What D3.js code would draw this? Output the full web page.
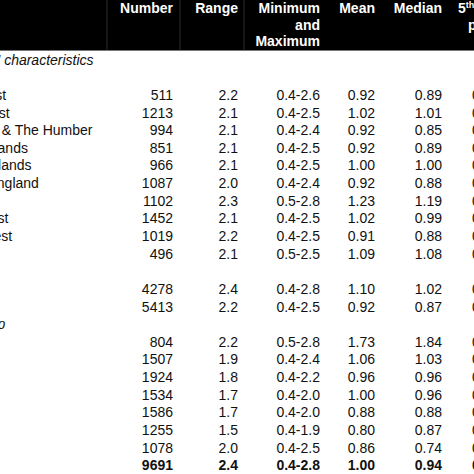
<!DOCTYPE html>
<html>
<head>
<meta charset="utf-8">
<script src="https://cdn.jsdelivr.net/npm/d3@7"></script>
<style>
  body { margin: 0; background: #fff; }
  svg { display: block; font-family: "Liberation Sans", Arial, sans-serif; }
</style>
</head>
<body>
<div id="svg-container"></div>
<script>
// table rows (null = blank / section row)
const labels = ["Practices' characteristics", "", "North East", "North West", "Yorkshire & The Humber",
  "East Midlands", "West Midlands", "East of England", "London", "South East", "South West", "Wales", "",
  "Urban", "Rural", "IMD group", "1", "2", "3", "4", "5", "6", "7", "Total"];
const sections = [0, 15];
const numbers = [null, null, 511, 1213, 994, 851, 966, 1087, 1102, 1452, 1019, 496, null,
  4278, 5413, null, 804, 1507, 1924, 1534, 1586, 1255, 1078, 9691];
const ranges = [null, null, "2.2", "2.1", "2.1", "2.1", "2.1", "2.0", "2.3", "2.1", "2.2", "2.1", null,
  "2.4", "2.2", null, "2.2", "1.9", "1.8", "1.7", "1.7", "1.5", "2.0", "2.4"];
const minMax = [null, null, "0.4-2.6", "0.4-2.5", "0.4-2.4", "0.4-2.5", "0.4-2.5", "0.4-2.4", "0.5-2.8",
  "0.4-2.5", "0.4-2.5", "0.5-2.5", null, "0.4-2.8", "0.4-2.5", null, "0.5-2.8", "0.4-2.4", "0.4-2.2",
  "0.4-2.0", "0.4-2.0", "0.4-1.9", "0.4-2.5", "0.4-2.8"];
const means = [null, null, "0.92", "1.02", "0.92", "0.92", "1.00", "0.92", "1.23", "1.02", "0.91", "1.09", null,
  "1.10", "0.92", null, "1.73", "1.06", "0.96", "1.00", "0.88", "0.80", "0.86", "1.00"];
const medians = [null, null, "0.89", "1.01", "0.85", "0.89", "1.00", "0.88", "1.19", "0.99", "0.88", "1.08", null,
  "1.02", "0.87", null, "1.84", "1.03", "0.96", "0.96", "0.88", "0.87", "0.74", "0.94"];
const p5 = [null, null, "0.5", "0.5", "0.5", "0.5", "0.5", "0.5", "0.6", "0.5", "0.5", "0.6", null,
  "0.5", "0.5", null, "0.8", "0.6", "0.5", "0.5", "0.5", "0.5", "0.5", "0.5"];
const totalRow = 23;

const width = 474, height = 474;
const svg = d3.select("#svg-container").append("svg")
  .attr("width", width).attr("height", height);

const y = d3.scaleLinear().domain([0, 1]).range([64.7, 82.33]);

// header band
svg.append("rect").attr("x", 0).attr("y", 0).attr("width", width).attr("height", 50).attr("fill", "#000");
svg.append("line").attr("x1", 0).attr("x2", width).attr("y1", 50.5).attr("y2", 50.5)
  .attr("stroke", "#777").attr("stroke-width", 1);
[107, 180, 244].forEach(x => {
  svg.append("line").attr("x1", x).attr("x2", x).attr("y1", 0).attr("y2", 50)
    .attr("stroke", "#2a2a2a").attr("stroke-width", 1);
});

const head = svg.append("g").attr("fill", "#fff").style("font-weight", "bold").style("font-size", "14px");
const hdr = [
  { x: 173, lines: ["Number"] },
  { x: 238, lines: ["Range"] },
  { x: 320, lines: ["Minimum", "and", "Maximum"] },
  { x: 375, lines: ["Mean"] },
  { x: 442, lines: ["Median"] }
];
hdr.forEach(h => h.lines.forEach((t, i) => {
  head.append("text").attr("x", h.x).attr("y", 13 + i * 16.5).attr("text-anchor", "end").text(t);
}));
const fifth = head.append("text").attr("x", 458).attr("y", 13);
fifth.append("tspan").text("5");
fifth.append("tspan").attr("dy", -5).style("font-size", "9px").text("th");
head.append("text").attr("x", 468).attr("y", 29.5).text("percentile");

// body
const body = svg.append("g").style("font-size", "14px").attr("fill", "#111");
labels.forEach((l, i) => {
  body.append("text").attr("x", -60).attr("y", y(i))
    .style("font-style", sections.includes(i) ? "italic" : "normal")
    .style("font-weight", i === totalRow ? "bold" : "normal")
    .text(l);
});
const cols = [
  { x: 173, data: numbers, anchor: "end" },
  { x: 238, data: ranges, anchor: "end" },
  { x: 320, data: minMax, anchor: "end" },
  { x: 375, data: means, anchor: "end" },
  { x: 442, data: medians, anchor: "end" },
  { x: 472, data: p5, anchor: "start" }
];
cols.forEach(c => {
  body.selectAll(null).data(c.data.map((v, i) => ({ v, i })).filter(d => d.v !== null))
    .enter().append("text")
    .attr("x", c.x).attr("y", d => y(d.i))
    .attr("text-anchor", c.anchor)
    .style("font-weight", d => d.i === totalRow ? "bold" : "normal")
    .text(d => d.v);
});
</script>
</body>
</html>
